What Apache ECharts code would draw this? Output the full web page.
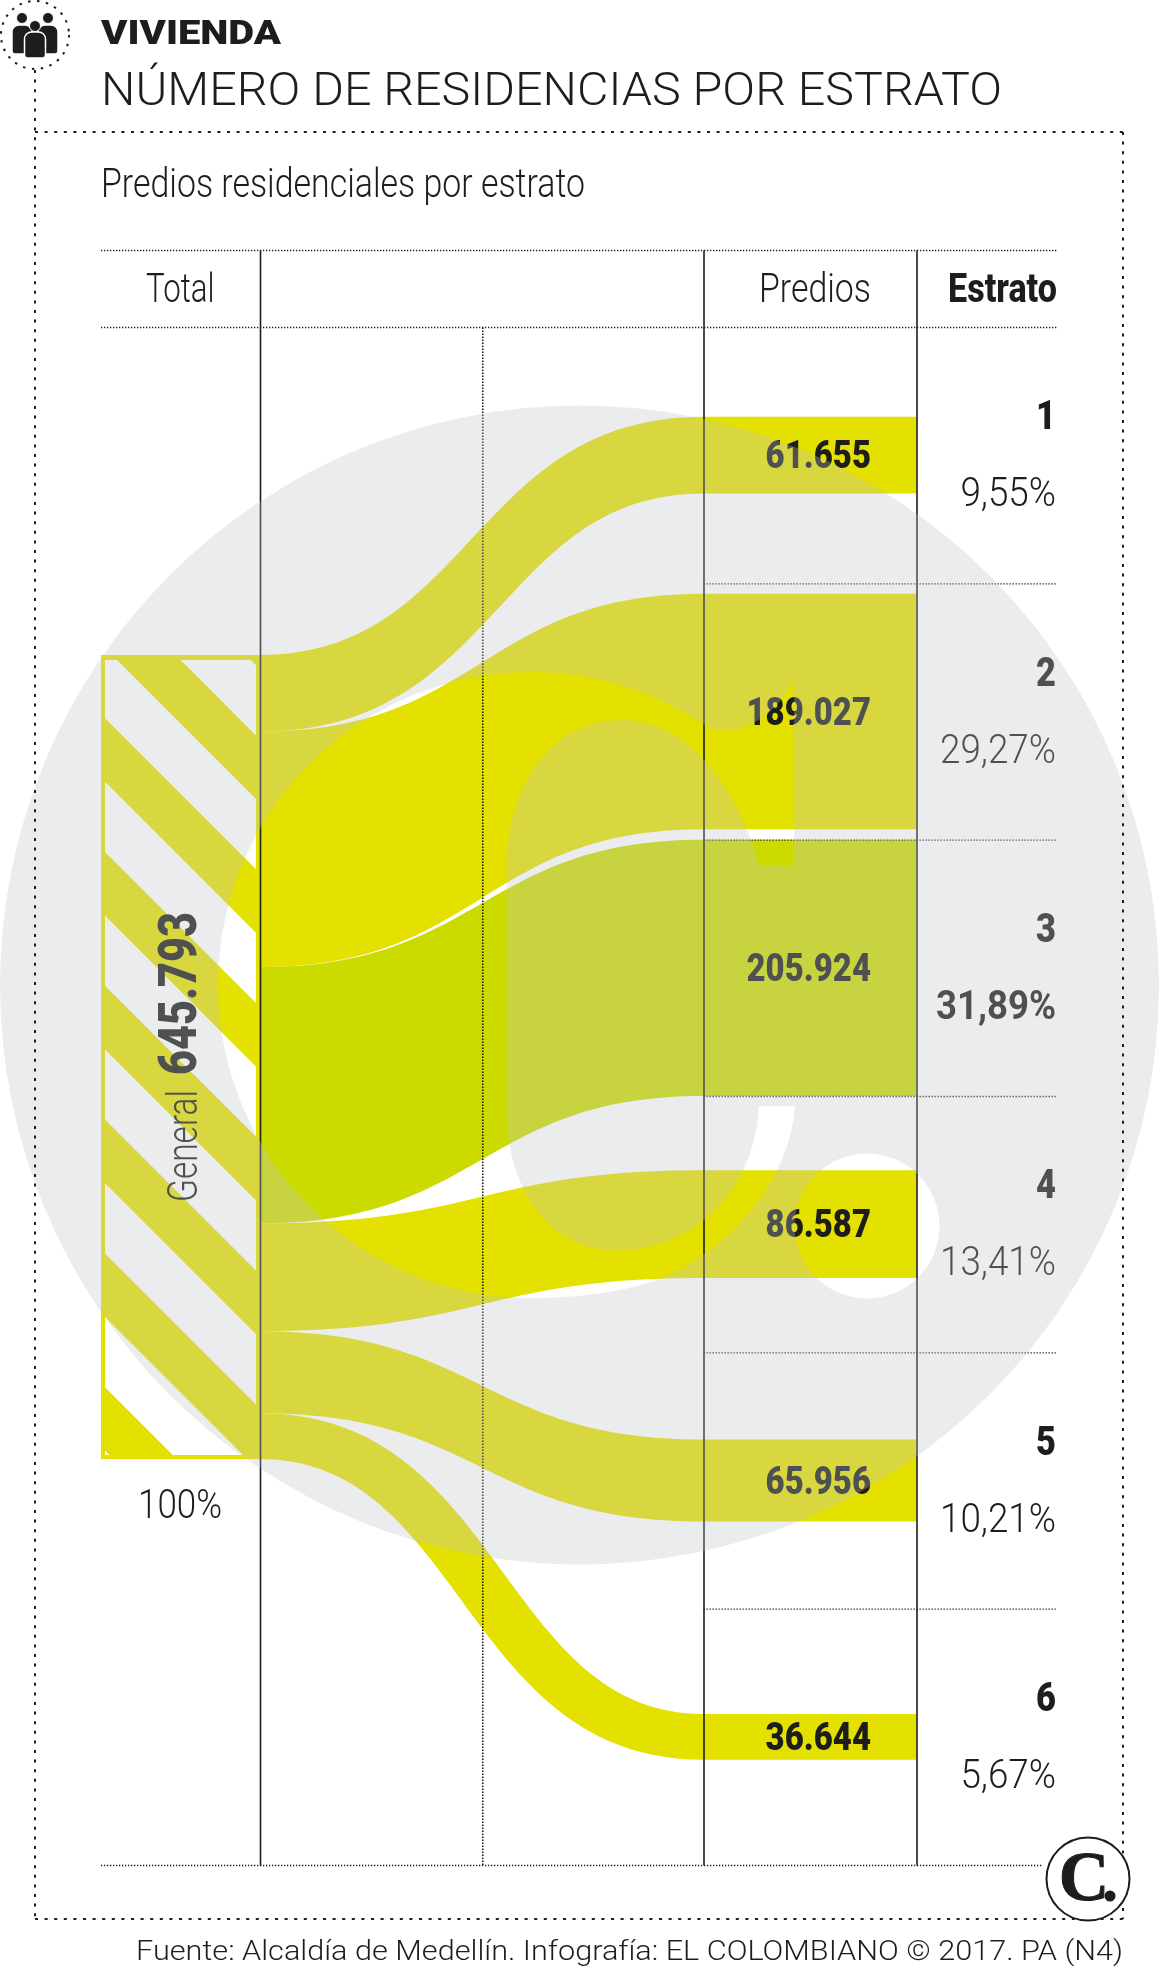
<!DOCTYPE html>
<html lang="es">
<head>
<meta charset="utf-8">
<title>Número de residencias por estrato</title>
<style>html,body{margin:0;padding:0;background:#fff}#chart{width:1159px;height:1973px}</style>
<script src="https://cdn.jsdelivr.net/npm/echarts@6/dist/echarts.min.js"></script>
</head>
<body>
<div id="chart"></div>
<script>
// Predios residenciales por estrato
const estratos = ['1', '2', '3', '4', '5', '6'];
const predios = [61655, 189027, 205924, 86587, 65956, 36644];
const porcentajes = ['9,55%', '29,27%', '31,89%', '13,41%', '10,21%', '5,67%'];
const totalLabel = '645.793';
const totalShare = '100%';
const columnTitles = ['Total', 'Predios', 'Estrato'];
const destacado = 2;

// Layout
const INK = '#1d1d1b';
const YELLOW = '#e4e000';
const GREEN = '#cbdb00';
const GRID = { left: 260, top: 327, width: 656.5, height: 1538 };
const ROW = Math.max(...predios);
const STACK_TOP = 263500;          // upper edge of the total column, in predios
const X_BOX = -159, X_START = 0, X_END = 443.5, X_BAR = 656.5;
const total = predios.reduce((a, b) => a + b, 0);
// Horizontal easing of the top and bottom edges of the steepest ribbons, px
const EDGE_EASE = { 0: [-9.4, 17], 5: [20, -18] };

const probe = document.createElement('canvas').getContext('2d');
function squeeze(text, font, width) {
  probe.font = font;
  return width / probe.measureText(text).width;
}
const thousands = v => String(v).replace(/\B(?=(\d{3})+$)/g, '.');

function textEl(text, x, y, font, sx, align, rotation) {
  return {
    type: 'text', x, y, scaleX: sx, rotation: rotation || 0, silent: true,
    style: { text, font, fill: INK, align: align || 'left', verticalAlign: 'middle' }
  };
}
function ruleEl(x1, y1, x2, y2, width, dash) {
  return {
    type: 'line', silent: true,
    shape: { x1, y1, x2, y2 },
    style: { stroke: INK, lineWidth: width, lineDash: dash || null, fill: null }
  };
}

const valueFont = '900 38px Roboto';
const pctFont = '300 40px Roboto';
const pctBold = '700 40px Roboto';
const digitFont = '900 40px Roboto';
const valueScale = squeeze('189.027', valueFont, 124.5);
const pctScale = squeeze('29,27%', pctFont, 116);
const pctBoldScale = squeeze('31,89%', pctBold, 120);
const digitScale = 0.86;

// Ribbon from the total column to each stratum, then its flat bar
let cursor = 0;
const flowRows = predios.map((v, i) => {
  const row = [i, v, cursor];
  cursor += v;
  return row;
});

function renderFlow(params, api) {
  const i = api.value(0), v = api.value(1), start = api.value(2);
  const from = STACK_TOP + start;
  const to = (i + 0.5) * ROW - v / 2;
  const t0 = api.coord([X_START, from]);
  const t1 = api.coord([X_END, to]);
  const b0 = api.coord([X_START, from + v]);
  const b1 = api.coord([X_END, to + v]);
  const barEnd = api.coord([X_BAR, to])[0];
  const midX = (t0[0] + t1[0]) / 2;
  const ease = EDGE_EASE[i] || [0, 0];
  const tx = midX + ease[0], bx = midX + ease[1];
  const color = i === destacado ? GREEN : YELLOW;
  const d = `M${t0[0]} ${t0[1]} C${tx} ${t0[1]} ${tx} ${t1[1]} ${t1[0]} ${t1[1]} ` +
    `L${barEnd} ${t1[1]} L${barEnd} ${b1[1]} L${b1[0]} ${b1[1]} ` +
    `C${bx} ${b1[1]} ${bx} ${b0[1]} ${b0[0]} ${b0[1]} Z`;
  return { type: 'path', shape: { pathData: d }, style: { fill: color } };
}

// Total column: solid block with white diagonal bands
function renderColumn(params, api) {
  const a = api.coord([X_BOX, STACK_TOP]);
  const b = api.coord([X_START, STACK_TOP + total]);
  const inner = { x: a[0] + 4, y: a[1] + 5, width: b[0] - a[0] - 8, height: b[1] - a[1] - 9 };
  const children = [{
    type: 'rect',
    shape: { x: a[0], y: a[1], width: b[0] - a[0], height: b[1] - a[1] },
    style: { fill: YELLOW }
  }];
  const period = 133.8, band = 70.2;
  for (let k = -1; k < 7; k++) {
    const c1 = a[1] - a[0] - 11 + k * period;
    const c2 = c1 + band;
    const x0 = inner.x - 20, x1 = inner.x + inner.width + 20;
    children.push({
      type: 'polygon',
      shape: { points: [[x0, x0 + c1], [x1, x1 + c1], [x1, x1 + c2], [x0, x0 + c2]] },
      style: { fill: '#fff' },
      clipPath: { type: 'rect', shape: inner }
    });
  }
  return { type: 'group', children };
}

// Rules and the figures of each stratum row
function renderRow(params, api) {
  const i = api.value(0), v = api.value(1);
  const yc = api.coord([0, (i + 0.5) * ROW])[1];
  const yb = api.coord([0, (i + 1) * ROW])[1];
  const xb = api.coord([X_END, 0])[0];
  const bold = i === destacado;
  const children = [
    textEl(thousands(v), 871, yc + 3.5, valueFont, valueScale, 'right'),
    textEl(estratos[i], 1056, yc - 36, digitFont, digitScale, 'right'),
    textEl(porcentajes[i], 1056, yc + 41, bold ? pctBold : pctFont, bold ? pctBoldScale : pctScale, 'right')
  ];
  if (i < estratos.length - 1) children.push(ruleEl(xb, yb + 0.5, 1057, yb + 0.5, 1.3, [1.3, 1.7]));
  return { type: 'group', children };
}

function renderTable(params, api) {
  const top = 250.5;
  const head = api.coord([0, 0])[1] + 0.5;
  const foot = api.coord([0, ROW * 6])[1] + 0.5;
  const xs = [X_START, X_END, X_BAR].map(x => api.coord([x, 0])[0] + 0.5);
  const xm = api.coord([(X_START + X_END) / 2, 0])[0] + 1;
  return {
    type: 'group',
    children: [
      ruleEl(101, top, 1057, top, 1.3, [1.3, 1.7]),
      ruleEl(101, head, 1057, head, 1.3, [1.3, 1.7]),
      ruleEl(101, foot, 1043, foot, 1.3, [1.3, 1.7]),
      ruleEl(xm, head, xm, foot, 1.6, [1.6, 1.4]),
      ...xs.map(x => ruleEl(x, top, x, foot, 1.6))
    ]
  };
}

// Big translucent disc with the newspaper's "C." cut out of it
const DISC = 'M1159 985 A579.5 579.5 0 1 0 0 985 A579.5 579.5 0 1 0 1159 985 Z';
const LETTER = 'M794 676 L794 865 L758.7 865 C745 810 700 720 621 720 C555 720 506.7 780 506.7 870 ' +
  'L506.7 1110 C506.7 1190 550 1250.5 616 1250.5 C695 1250.5 755 1190 758.7 1106 L795 1106 ' +
  'C790 1180 730 1250 660 1279 C620 1293 575 1298 531 1298 A313 313 0 0 1 218 985 A313 313 0 0 1 531 672 ' +
  'C600 672 660 695 703 724 C712 730 722 731 730 730 C755 728 785 705 794 676 Z';
const POINT = 'M939.5 1226 A72.5 72.5 0 1 1 794.5 1226 A72.5 72.5 0 1 1 939.5 1226 Z';

function renderDisc() {
  return {
    type: 'path', silent: true,
    shape: { pathData: DISC + ' ' + LETTER + ' ' + POINT },
    style: { fill: 'rgba(191,194,200,0.314)' }
  };
}

// Outer frame, section icon and footer mark
function renderFrame() {
  const dash = [3, 6.6];
  const person = (x, y, w, h, headR, headY) => [
    { type: 'circle', shape: { cx: x + w / 2, cy: headY, r: headR }, style: { fill: INK, stroke: '#fff', lineWidth: 1 } },
    { type: 'rect', shape: { x, y, width: w, height: h, r: [7, 7, 3, 3] }, style: { fill: INK, stroke: '#fff', lineWidth: 1.5 } }
  ];
  return {
    type: 'group', silent: true,
    children: [
      ruleEl(35, 70, 35, 1919, 2, dash),
      ruleEl(35, 132, 1123, 132, 2, dash),
      ruleEl(1123, 132, 1123, 1919, 2, dash),
      ruleEl(35, 1919, 1123, 1919, 2, dash),
      { type: 'circle', shape: { cx: 35, cy: 35, r: 34 }, style: { fill: null, stroke: INK, lineWidth: 2, lineDash: [2.5, 6.5] } },
      ...person(12, 25, 20, 29, 5.5, 18),
      ...person(38, 25, 20, 29, 5.5, 18),
      ...person(24.5, 32, 21, 26, 5.5, 26),
      { type: 'circle', shape: { cx: 1088, cy: 1879, r: 41.5 }, style: { fill: '#fff', stroke: INK, lineWidth: 2 } },
      {
        type: 'text', x: 1084, y: 1882,
        style: { text: 'C', font: '700 70px "Liberation Serif"', fill: INK, stroke: INK, lineWidth: 1, align: 'center', verticalAlign: 'middle' }
      },
      { type: 'circle', shape: { cx: 1110, cy: 1896, r: 5.5 }, style: { fill: INK } }
    ]
  };
}

// Headings, column titles and the vertical caption of the total column
const headFont = '300 40px Roboto';
const strongHead = '800 40px Roboto';
const titleFont = '900 34px Roboto';
const subFont = '300 46px Roboto';
const footFont = '300 27px Roboto';
const footText = 'Fuente: Alcaldía de Medellín. Infografía: EL COLOMBIANO © 2017. PA (N4)';
const titleText = 'NÚMERO DE RESIDENCIAS POR ESTRATO';
const subText = 'Predios residenciales por estrato';

function renderCaptions() {
  return {
    type: 'group', silent: true,
    children: [
      textEl(subText, 101, 187, headFont, squeeze(subText, headFont, 484)),
      textEl(columnTitles[0], 146, 292, headFont, squeeze(columnTitles[0], headFont, 68.5)),
      textEl(columnTitles[1], 759, 292, headFont, squeeze(columnTitles[1], headFont, 112)),
      textEl(columnTitles[2], 948, 292, strongHead, squeeze(columnTitles[2], strongHead, 109)),
      textEl(totalShare, 138, 1508, headFont, squeeze(totalShare, headFont, 84)),
      textEl('General', 186, 1202, '300 42px Roboto', squeeze('General', '300 42px Roboto', 112), 'left', Math.PI / 2),
      textEl(totalLabel, 182, 1075, '900 54px Roboto', squeeze(totalLabel, '900 54px Roboto', 163), 'left', Math.PI / 2),
      textEl('VIVIENDA', 101, 35, titleFont, squeeze('VIVIENDA', titleFont, 180)),
      textEl(titleText, 101, 93, subFont, squeeze(titleText, subFont, 901)),
      textEl(footText, 136, 1953, footFont, squeeze(footText, footFont, 987))
    ]
  };
}

const chart = echarts.init(document.getElementById('chart'), null, { renderer: 'canvas' });
chart.setOption({
  animation: false,
  backgroundColor: '#fff',
  grid: GRID,
  xAxis: { type: 'value', min: X_START, max: X_BAR, show: false },
  yAxis: { type: 'value', min: 0, max: ROW * 6, inverse: true, show: false },
  series: [
    { name: 'flujos', type: 'custom', z: 2, silent: true, clip: false, data: flowRows, renderItem: renderFlow },
    { name: 'total', type: 'custom', z: 3, silent: true, clip: false, data: [[0]], renderItem: renderColumn },
    { name: 'tabla', type: 'custom', z: 4, silent: true, clip: false, data: [[0]], renderItem: renderTable },
    { name: 'estratos', type: 'custom', z: 5, silent: true, clip: false, data: flowRows, renderItem: renderRow },
    { name: 'rotulos', type: 'custom', coordinateSystem: 'none', z: 5, silent: true, data: [[0]], renderItem: renderCaptions },
    { name: 'disco', type: 'custom', coordinateSystem: 'none', z: 10, silent: true, data: [[0]], renderItem: renderDisc },
    { name: 'marco', type: 'custom', coordinateSystem: 'none', z: 20, silent: true, data: [[0]], renderItem: renderFrame }
  ]
});
</script>
</body>
</html>
